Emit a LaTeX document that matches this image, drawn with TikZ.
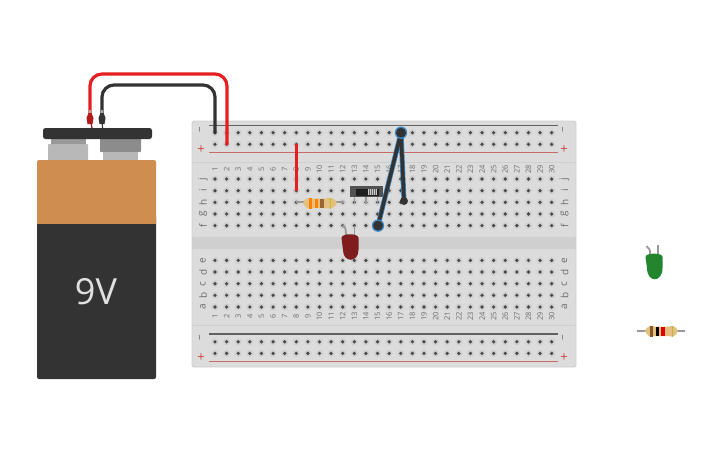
\documentclass[tikz,border=0pt]{standalone}
\usepackage{fontspec}
\setmainfont{Open Sans}
\usetikzlibrary{positioning}
\definecolor{boardgray}{HTML}{DCDCDC}
\definecolor{boardedge}{HTML}{CFCFCF}
\definecolor{gapgray}{HTML}{CFCFCF}
\definecolor{railred}{HTML}{C96A6A}
\definecolor{plusred}{HTML}{D0403F}
\definecolor{wirered}{HTML}{E3201F}
\definecolor{wireblack}{HTML}{333333}
\definecolor{battorange}{HTML}{CF8E50}
\definecolor{legray}{HTML}{999999}
\definecolor{ledred}{HTML}{7E1C1E}
\definecolor{ledgreen}{HTML}{23852D}
\definecolor{restan}{HTML}{E3C07F}
\definecolor{wireblue}{HTML}{3C8CC8}
\tikzset{
    hole/.style={circle,fill=black!72,inner sep=0pt,minimum size=3.6pt},
    halo/.style={circle,fill=black!19,inner sep=0pt,minimum size=7pt},
    boardtxt/.style={rotate=90,font=\fontsize{7.5}{8}\selectfont,text=black!58,inner sep=0pt},
    lettertxt/.style={boardtxt,font=\fontsize{10}{10}\selectfont},
    minustxt/.style={rotate=90,font=\fontsize{11}{11}\selectfont,text=black!55,inner sep=0pt},
    plustxt/.style={font=\fontsize{13}{13}\selectfont,text=plusred,inner sep=0pt},
    redwire/.style={wirered,line width=3.2pt,line cap=round},
    blackwire/.style={wireblack,line width=3.2pt,line cap=round},
    lead/.style={legray,line width=1.8pt}
}
\begin{document}
\begin{tikzpicture}[x=1pt,y=-1pt]
    \useasboundingbox (0,0) rectangle (725,453);
    % battery
    \fill[legray] (51,137) rectangle (86,145);
    \fill[black!28,rounded corners=0.8pt] (48,144) rectangle (88,161);
    \fill[black!45,rounded corners=0.8pt] (100,137) rectangle (141,152);
    \fill[black!28] (103,152) rectangle (138,161);
    \fill[wireblack,rounded corners=2.5pt] (43,128) rectangle (152,139);
    \fill[wireblack,rounded corners=2pt] (37,215) rectangle (156,379);
    \fill[battorange,rounded corners=2pt] (37,224) -- (37,160) -- (156,160) -- (156,224);
    \fill[wireblack] (37,222) rectangle (156,232);
    \fill[battorange] (37,215) rectangle (156,224);
    \node[text=black!12,font=\fontsize{36}{36}\selectfont,inner sep=0pt] (volts) at (96,292) {9V};
    % board
    \fill[boardgray,rounded corners=1.5pt] (192,121) rectangle (576,367);
    \draw[boardedge,line width=0.8pt,rounded corners=1.5pt] (192,121) rectangle (576,367);
    \draw[boardedge,line width=0.8pt] (192,162) -- (576,162) (192,325) -- (576,325);
    \fill[gapgray] (192.4,237) rectangle (575.6,249);
    % holes, one pair of loops for rails and terminals
    \foreach \rowy in {132.7,144.3,179,190.7,202.3,214,225.6,260.4,272,283.7,295.3,307,341.8,353.4}{
        \foreach \col in {0,...,29}{
            \node[halo] at (215+11.61*\col,\rowy) {};
            \node[hole] at (215+11.61*\col,\rowy) {};
        }
    }
    % rail lines
    \draw[black!62,line width=1.5pt] (209,125.5) -- (558,125.5);
    \draw[railred,line width=1.8pt] (209,152.5) -- (558,152.5);
    \draw[black!62,line width=1.5pt] (209,334) -- (558,334);
    \draw[railred,line width=1.8pt] (209,361.5) -- (558,361.5);
    \foreach \railx in {201,564}{
        \node[minustxt] at (\railx,129.5) {–};
        \node[plustxt] at (\railx,149.5) {+};
        \node[minustxt] at (\railx,337.5) {–};
        \node[plustxt] at (\railx,357.5) {+};
    }
    % numbers and letters
    \foreach \num in {1,...,30}{
        \node[boardtxt] at (215+11.61*\num-11.61,169.5) {\num};
        \node[boardtxt] at (215+11.61*\num-11.61,316.5) {\num};
    }
    \foreach \letr/\rowy in {j/179,i/190.7,h/202.3,g/214,f/225.6,e/260.4,d/272,c/283.7,b/295.3,a/307}{
        \node[lettertxt] at (203,\rowy) {\letr};
        \node[lettertxt] at (564.5,\rowy) {\letr};
    }
    % battery leads
    \coordinate (redclip) at (90,118);
    \coordinate (blackclip) at (102,118);
    \coordinate (redend) at (227,144.3);
    \coordinate (blackend) at (215,132.7);
    \draw[wirered!70!black,line width=1.2pt] (redclip) -- (92,128);
    \draw[wireblack,line width=1.2pt] (blackclip) -- (102.5,128);
    \draw[redwire,rounded corners=12pt] (redclip) -- (90,74) -- (227,74) -- (redend);
    \draw[blackwire,rounded corners=12pt] (blackclip) -- (102,85) -- (215,85) -- (blackend);
    \fill[wirered!80!black] (88.5,113) -- (91.5,113) -- (93.5,118) -- (92.5,124) -- (87.5,124) -- (86.5,118) -- cycle;
    \fill[wireblack] (100.5,113) -- (103.5,113) -- (105.5,118) -- (104.5,124) -- (99.5,124) -- (98.5,118) -- cycle;
    \fill[black!35] (89,110) rectangle (91,113);
    \fill[black!35] (101,110) rectangle (103,113);
    % jumper
    \coordinate (jumpa) at (296.5,144.3);
    \coordinate (jumpb) at (296.5,191);
    \draw[redwire,line cap=butt,line width=3.6pt] (jumpa) -- (jumpb);
    % resistor on board
    \draw[lead] (296,202.3) -- (344,202.3);
    \fill[restan] (303,203) .. controls (305,198.5) and (308,197) .. (312,198.5) -- (326,198.5)
        .. controls (331,197) and (335,198.5) .. (337,203) .. controls (335,207.5) and (331,210) .. (326,208)
        -- (312,208) .. controls (308,210) and (305,207.5) .. (303,203) -- cycle;
    \fill[orange] (309,198) rectangle (312,209);
    \fill[orange] (314.5,198.5) rectangle (317.5,208);
    \fill[brown!80!black] (320,198.5) rectangle (323.5,208);
    \fill[yellow!75!black] (330,198) rectangle (331,208.5);
    % switch
    \foreach \pinx in {354.5,366,377.5}{
        \draw[lead,line width=1.5pt] (\pinx,197) -- (\pinx,204);
    }
    \fill[black!68] (350,186) rectangle (383,197);
    \fill[black!88] (356,188.5) rectangle (379,195.5);
    \fill[black!20] (368,189) rectangle (377,195);
    \foreach \tick in {369.5,371.5,373.5,375.5}{
        \draw[black!60,line width=0.6pt] (\tick,189) -- (\tick,195);
    }
    % red led
    \draw[lead,rounded corners=1pt] (342.5,225.6) -- (345.5,228) -- (346,235);
    \draw[lead] (354.5,225.6) -- (354.5,235);
    \fill[ledred] (341.5,238) .. controls (341.5,233) and (358.5,233) .. (358.5,238)
        -- (358.5,250) .. controls (358.5,263) and (343,263) .. (343,250) -- cycle;
    % jumpers with blue outline
    \coordinate (topend) at (401,132.7);
    \coordinate (lowend) at (378,225.6);
    \coordinate (midend) at (404,201);
    \draw[wireblue,line width=5pt] (topend) -- (lowend) (topend) -- (midend);
    \draw[blackwire,line width=3.6pt] (topend) -- (lowend) (topend) -- (midend);
    \fill[wireblue] (topend) circle (6.2pt);
    \fill[wireblue] (lowend) circle (6.2pt);
    \fill[wireblack] (topend) circle (5pt);
    \fill[wireblack] (lowend) circle (5pt);
    \fill[wireblack] (midend) circle (4pt);
    % parts beside the board
    \draw[lead,rounded corners=1pt] (646.5,246) -- (650,250) -- (650,256);
    \draw[lead] (658,245) -- (658,256);
    \fill[ledgreen] (645.5,257) .. controls (645.5,252.5) and (662.5,252.5) .. (662.5,257)
        -- (662.5,268) .. controls (662.5,283) and (647,283) .. (647,268) -- cycle;
    \draw[lead] (637,331) -- (685,331);
    \fill[restan] (645,331) .. controls (647,326.5) and (650,325) .. (654,326.5) -- (669,326.5)
        .. controls (673,325) and (676,326.5) .. (678,331) .. controls (676,335.5) and (673,338) .. (669,336)
        -- (654,336) .. controls (650,338) and (647,335.5) .. (645,331) -- cycle;
    \fill[brown!70!black] (650,326) rectangle (653,337);
    \fill[black] (655.5,326.5) rectangle (658.5,336);
    \fill[red!90!black] (661,326.5) rectangle (664.5,336);
    \fill[yellow!70!black] (672,326) rectangle (673,336.5);
\end{tikzpicture}
\end{document}
